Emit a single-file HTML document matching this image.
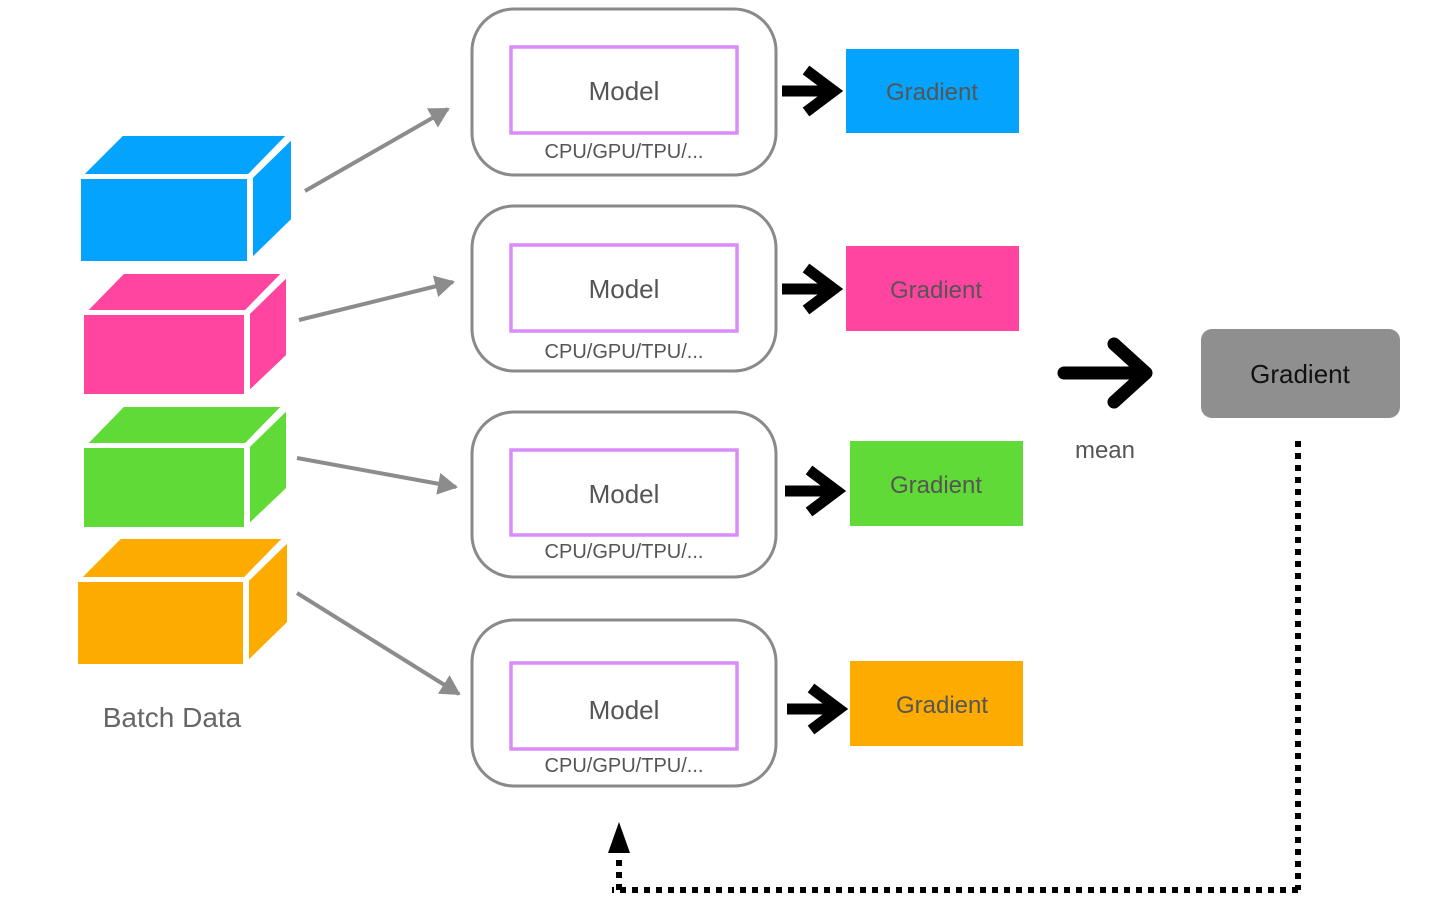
<!DOCTYPE html>
<html><head><meta charset="utf-8"><style>html,body{margin:0;padding:0;background:#fff}svg{display:block}</style></head>
<body>
<svg width="1440" height="903" viewBox="0 0 1440 903" xmlns="http://www.w3.org/2000/svg" font-family="'Liberation Sans', sans-serif">
<defs>
<marker id="ga" markerWidth="6" markerHeight="6" refX="4.5" refY="2.75" orient="auto" markerUnits="strokeWidth"><path d="M0,0 L5,2.75 L0,5.5 z" fill="#8c8c8c"/></marker>
</defs>
<g stroke="#fff" stroke-width="4" stroke-linejoin="miter">
<polygon points="80,176 122,134 290,134 249,176" fill="#04a3fe"/>
<rect x="79" y="177" width="170" height="86" fill="#04a3fe"/>
<polygon points="251,177 293,136 293,220 251,261" fill="#04a3fe"/>

<polygon points="84,312 123,272 285,272 246,312" fill="#ff459f"/>
<rect x="82" y="313" width="164" height="83" fill="#ff459f"/>
<polygon points="248,313 288,274 288,356 248,394" fill="#ff459f"/>

<polygon points="84,445 123,405 285,405 246,445" fill="#5fda36"/>
<rect x="82" y="446" width="164" height="83" fill="#5fda36"/>
<polygon points="248,446 288,407 288,489 248,527" fill="#5fda36"/>

<polygon points="78,579 120,537 286,537 245,579" fill="#feab00"/>
<rect x="76" y="580" width="169" height="86" fill="#feab00"/>
<polygon points="247,580 289,539 289,623 247,664" fill="#feab00"/>
</g>
<text x="172" y="727" font-size="28" fill="#666" text-anchor="middle">Batch Data</text>

<g stroke="#8c8c8c" stroke-width="4" marker-end="url(#ga)">
<line x1="305" y1="191" x2="448" y2="109"/>
<line x1="299" y1="320" x2="453" y2="282"/>
<line x1="297" y1="458" x2="456" y2="487"/>
<line x1="297" y1="593" x2="459" y2="694"/>
</g>

<g fill="none" stroke="#8a8a8a" stroke-width="3">
<rect x="472" y="9" width="304" height="166" rx="42"/>
<rect x="472" y="206" width="304" height="165" rx="42"/>
<rect x="472" y="412" width="304" height="165" rx="42"/>
<rect x="472" y="620" width="304" height="166" rx="42"/>
</g>
<g fill="none" stroke="#d98cf7" stroke-width="3.5">
<rect x="511" y="47" width="226" height="86"/>
<rect x="511" y="245" width="226" height="86"/>
<rect x="511" y="450" width="226" height="85"/>
<rect x="511" y="663" width="226" height="86"/>
</g>
<g font-size="26" fill="#555" text-anchor="middle">
<text x="624" y="100">Model</text>
<text x="624" y="298">Model</text>
<text x="624" y="503">Model</text>
<text x="624" y="719">Model</text>
</g>
<g font-size="20" fill="#555" text-anchor="middle">
<text x="624" y="158">CPU/GPU/TPU/...</text>
<text x="624" y="358">CPU/GPU/TPU/...</text>
<text x="624" y="558">CPU/GPU/TPU/...</text>
<text x="624" y="772">CPU/GPU/TPU/...</text>
</g>

<g stroke="#000" stroke-width="11" fill="none">
<path d="M782,91 H832 M806,70 L834,91 L806,112"/>
<path d="M782,289 H832 M806,268 L834,289 L806,310"/>
<path d="M785,491 H835 M809,470 L837,491 L809,512"/>
<path d="M787,709 H837 M811,688 L839,709 L811,730"/>
</g>

<rect x="846" y="49" width="173" height="84" fill="#04a3fe"/>
<rect x="846" y="246" width="173" height="85" fill="#ff459f"/>
<rect x="850" y="441" width="173" height="85" fill="#5fda36"/>
<rect x="850" y="661" width="173" height="85" fill="#feab00"/>
<g font-size="24" fill="#555" text-anchor="middle">
<text x="932" y="100">Gradient</text>
<text x="936" y="298">Gradient</text>
<text x="936" y="493">Gradient</text>
<text x="942" y="713">Gradient</text>
</g>

<path d="M1064,373 H1146 M1114,344 L1146,373 L1114,402" stroke="#000" stroke-width="13" fill="none" stroke-linecap="round" stroke-linejoin="round"/>
<text x="1105" y="458" font-size="24" fill="#555" text-anchor="middle">mean</text>

<rect x="1201" y="329" width="199" height="89" rx="11" fill="#8f8f8f"/>
<text x="1300" y="383" font-size="26" fill="#111" text-anchor="middle">Gradient</text>

<g stroke="#000" stroke-width="6" fill="none" stroke-dasharray="6,6">
<line x1="1298" y1="441" x2="1298" y2="890"/>
<line x1="1298" y1="890" x2="612" y2="890"/>
<line x1="619" y1="890" x2="619" y2="855"/>
</g>
<polygon points="619,822 608,853 630,853" fill="#000"/>
</svg>
</body></html>
